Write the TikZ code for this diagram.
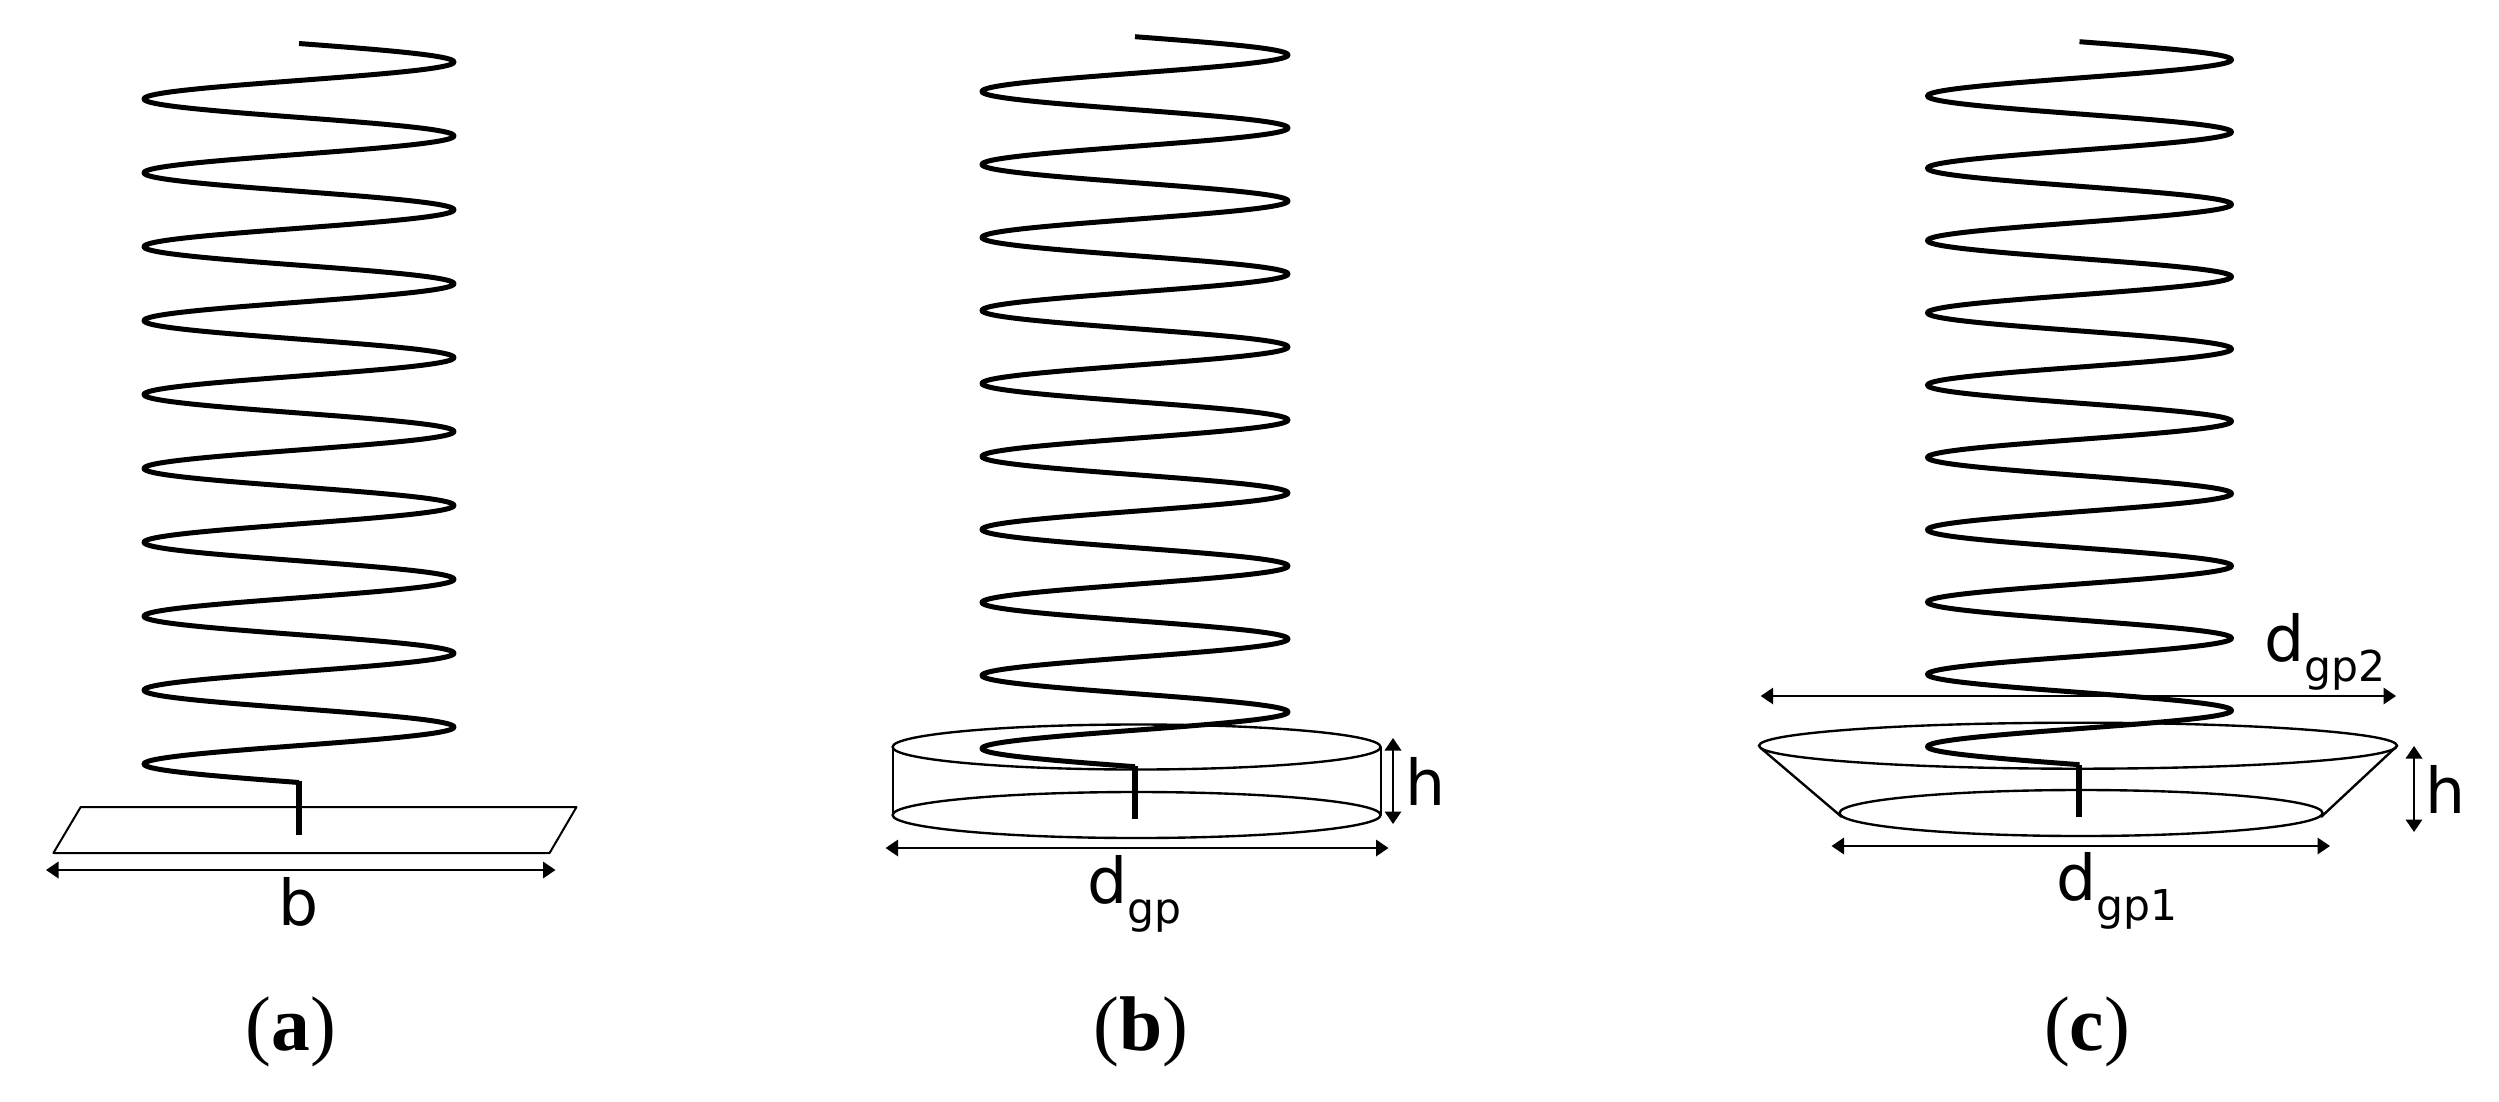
\documentclass[tikz,border=0pt]{standalone}
\usepackage{fontspec}
\setmainfont{Liberation Serif}
\newfontfamily\labelfont{DejaVu Sans}
\usetikzlibrary{arrows.meta}
\newcommand{\lab}[2]{{\fontsize{25.3pt}{25.3pt}\selectfont #1}{\fontsize{17pt}{17pt}\selectfont\raisebox{-8pt}{#2}}}
\tikzset{
  x=0.4pt,y=-0.4pt,
  wire/.style={line width=2pt,line join=round,black},
  post/.style={line width=2.4pt,black},
  thinline/.style={line width=0.8pt,black},
  outline/.style={line width=0.95pt,black},
  dim/.style={line width=0.75pt,black,{Triangle[length=5pt,width=6.6pt]}-{Triangle[length=5pt,width=6.6pt]}},
  dimlabel/.style={font=\labelfont,inner sep=0pt,anchor=base west,text=black},
  caption/.style={inner sep=0pt,anchor=base,text=black,font=\fontsize{31pt}{31pt}\selectfont}
}
% helix: centre x, amplitude, start y, pitch
\newcommand{\helix}[4]{\draw[wire,line cap=butt] plot[domain=-90:3510,samples=901,variable=\t] ({#1+#2*cos(\t)},{#3+#4*((\t+90)/360)});}
\begin{document}
\begin{tikzpicture}
\useasboundingbox (0,0) rectangle (2499,1101);
% ---------- panel a
\coordinate (a1) at (80.7,807);
\coordinate (a2) at (576.5,807);
\coordinate (a3) at (549.6,853);
\coordinate (a4) at (53.4,853);
\draw[thinline,line join=round] (a1) -- (a2) -- (a3) -- (a4) -- cycle;
\helix{299}{155}{43.5}{73.9}
\coordinate (atop) at (299,781);
\coordinate (afoot) at (299,835);
\draw[post] (atop) -- (afoot);
\coordinate (adl) at (46,870);
\coordinate (adr) at (555.5,870);
\draw[dim] (adl) -- (adr);
\node[dimlabel] (blabel) at (278,925) {\lab{b}{}};
\node[caption] (capa) at (291,1050) {(\textbf{a})};
% ---------- panel b
\draw[outline] (1136.6,747) ellipse [x radius=244,y radius=22.5];
\draw[outline] (1136.6,815) ellipse [x radius=244,y radius=23];
\coordinate (bl1) at (892.6,747);
\coordinate (bl2) at (892.6,815);
\coordinate (br1) at (1380.6,747);
\coordinate (br2) at (1380.6,815);
\draw[thinline] (bl1) -- (bl2);
\draw[thinline] (br1) -- (br2);
\helix{1135}{153}{36.7}{73}
\coordinate (btop) at (1135,766);
\coordinate (bfoot) at (1135,819);
\draw[post] (btop) -- (bfoot);
\coordinate (bdl) at (885.6,848);
\coordinate (bdr) at (1388.5,848);
\draw[dim] (bdl) -- (bdr);
\coordinate (bhu) at (1393,738);
\coordinate (bhd) at (1393,824);
\draw[dim] (bhu) -- (bhd);
\node[dimlabel] (hb) at (1405,805) {\lab{h}{}};
\node[dimlabel] (dgp) at (1087,903) {\lab{d}{gp}};
\node[caption] (capb) at (1141,1050) {(\textbf{b})};
% ---------- panel c
\draw[outline] (2078,745.7) ellipse [x radius=319,y radius=23];
\draw[outline] (2081,813) ellipse [x radius=241.5,y radius=23];
\coordinate (cl1) at (1760.7,748);
\coordinate (cl2) at (1841.8,817);
\coordinate (cr1) at (2396,747);
\coordinate (cr2) at (2321,817);
\draw[outline] (cl1) -- (cl2);
\draw[outline] (cr1) -- (cr2);
\helix{2079.5}{152}{41.7}{72.3}
\coordinate (ctop) at (2079,765);
\coordinate (cfoot) at (2079,817);
\draw[post] (ctop) -- (cfoot);
\coordinate (cdl) at (1760.7,696);
\coordinate (cdr) at (2396,696);
\draw[dim] (cdl) -- (cdr);
\coordinate (cel) at (1831.5,846);
\coordinate (cer) at (2330,846);
\draw[dim] (cel) -- (cer);
\coordinate (chu) at (2414,746);
\coordinate (chd) at (2414,832);
\draw[dim] (chu) -- (chd);
\node[dimlabel] (hc) at (2425,813) {\lab{h}{}};
\node[dimlabel] (dgpb) at (2264,661) {\lab{d}{gp2}};
\node[dimlabel] (dgpa) at (2056,900) {\lab{d}{gp1}};
\node[caption] (capc) at (2087,1050) {(\textbf{c})};
\end{tikzpicture}
\end{document}
